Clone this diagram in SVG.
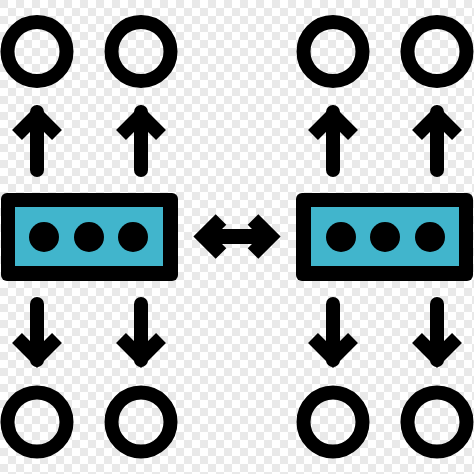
<svg xmlns="http://www.w3.org/2000/svg" width="474" height="474" viewBox="0 0 474 474">
<defs>
<pattern id="chk" width="16" height="16" patternUnits="userSpaceOnUse">
<rect width="16" height="16" fill="#ffffff"/>
<rect width="8" height="8" fill="#e9e9e9"/>
<rect x="8" y="8" width="8" height="8" fill="#e9e9e9"/>
</pattern>
<style>
.ring{fill:none;stroke:#000;stroke-width:14}
.frame{fill:#000}
.screen{fill:#41b5cc}
.dot{fill:#000}
.shaft{fill:none;stroke:#000;stroke-width:14;stroke-linecap:round}
.head{fill:none;stroke:#000;stroke-width:14;stroke-linejoin:miter;stroke-linecap:butt}
.bar{fill:none;stroke:#000;stroke-width:15;stroke-linecap:butt}
.head2{fill:none;stroke:#000;stroke-width:15;stroke-linejoin:miter;stroke-linecap:butt}
</style>
</defs>
<rect width="474" height="474" fill="url(#chk)"/>

<g id="circle-tl1"><circle class="ring" cx="37" cy="51.5" r="29.5"/></g>
<g id="circle-tl2"><circle class="ring" cx="141" cy="51.5" r="29.5"/></g>
<g id="circle-tr1"><circle class="ring" cx="333" cy="51.5" r="29.5"/></g>
<g id="circle-tr2"><circle class="ring" cx="437" cy="51.5" r="29.5"/></g>
<g id="circle-bl1"><circle class="ring" cx="37" cy="422" r="29.5"/></g>
<g id="circle-bl2"><circle class="ring" cx="141" cy="422" r="29.5"/></g>
<g id="circle-br1"><circle class="ring" cx="333" cy="422" r="29.5"/></g>
<g id="circle-br2"><circle class="ring" cx="437" cy="422" r="29.5"/></g>

<g id="box-left">
<rect class="frame" x="1" y="193" width="177" height="88" rx="6"/>
<rect class="screen" x="15" y="207" width="148" height="59"/>
<circle class="dot" cx="44" cy="237" r="15"/>
<circle class="dot" cx="89" cy="237" r="15"/>
<circle class="dot" cx="133" cy="237" r="15"/>
</g>
<g id="box-right">
<rect class="frame" x="296" y="193" width="177" height="88" rx="6"/>
<rect class="screen" x="311" y="207" width="148" height="59"/>
<circle class="dot" cx="341" cy="237" r="15"/>
<circle class="dot" cx="385" cy="237" r="15"/>
<circle class="dot" cx="430" cy="237" r="15"/>
</g>

<g id="connectors">
<g id="up-arrows">
<line class="shaft" x1="37" y1="112" x2="37" y2="170"/>
<polyline class="head" points="17,135 37,115 57,135"/>
<line class="shaft" x1="141" y1="112" x2="141" y2="170"/>
<polyline class="head" points="121,135 141,115 161,135"/>
<line class="shaft" x1="333" y1="112" x2="333" y2="170"/>
<polyline class="head" points="313,135 333,115 353,135"/>
<line class="shaft" x1="437" y1="112" x2="437" y2="170"/>
<polyline class="head" points="417,135 437,115 457,135"/>
</g>
<g id="down-arrows">
<line class="shaft" x1="37" y1="304" x2="37" y2="360"/>
<polyline class="head" points="17,338 37,358 57,338"/>
<line class="shaft" x1="141" y1="304" x2="141" y2="360"/>
<polyline class="head" points="121,338 141,358 161,338"/>
<line class="shaft" x1="333" y1="304" x2="333" y2="360"/>
<polyline class="head" points="313,338 333,358 353,338"/>
<line class="shaft" x1="437" y1="304" x2="437" y2="360"/>
<polyline class="head" points="417,338 437,358 457,338"/>
</g>
<g id="double-arrow">
<line class="bar" x1="204" y1="236.5" x2="270" y2="236.5"/>
<polyline class="head2" points="221,219.5 204,236.5 221,253.5"/>
<polyline class="head2" points="253,219.5 270,236.5 253,253.5"/>
</g>
</g>
</svg>
